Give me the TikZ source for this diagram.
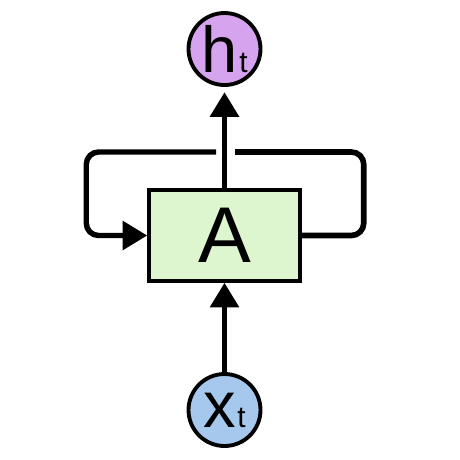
\documentclass[tikz,border=0pt]{standalone}
\usepackage{fontspec}
\setmainfont{Liberation Sans}
\usepackage{tikz}
\usetikzlibrary{arrows.meta}
\definecolor{lilac}  {RGB}{214,164,238}
\definecolor{skyblue}{RGB}{166,200,236}
\definecolor{mint}   {RGB}{222,246,208}
\tikzset{ % Setup for the loop diagram
state/.style={circle,draw,line width=2.2pt,minimum size=1.44cm,inner sep=0pt},
cell/.style={rectangle,draw,line width=2pt,fill=mint,minimum width=3.02cm,minimum height=1.82cm,inner sep=0pt},
flow/.style={line width=3.1pt,-{Triangle[length=14pt,width=16pt]}},
loopline/.style={line width=3.2pt,rounded corners=7pt},
}
\newcommand{\bigtxt}[1]{{\fontsize{37}{37}\selectfont #1}}
\newcommand{\subtxt}[1]{{\fontsize{17}{17}\selectfont #1}}

\begin{document}
\begin{tikzpicture}[x=0.02cm,y=-0.02cm]
            \useasboundingbox (0,0) rectangle (460,460);
            \node [cell] (A) at (224.5,235.5) {\fontsize{45}{45}\selectfont A};
            \node [state, fill=lilac] (h) at (224.5,49) {\bigtxt{h}\hspace{1pt}\subtxt{t}};
            \node [state, fill=skyblue] (x) at (224.5,410) {\bigtxt{x}\hspace{1pt}\subtxt{t}};
            \coordinate (gapL) at (216,152);
            \coordinate (gapR) at (235,152);
            % recurrent loop
            \draw [loopline] (A.east) -- ++(62,0) |- (gapR);
            \draw [loopline, flow] (gapL) -| ([xshift=-1.22cm]A.west) -- (A.west);
            % input and output
            \draw [flow] (x) -- (A.south);
            \draw [flow, shorten >=3pt] (A.north) -- (h);
        \end{tikzpicture}
\end{document}
